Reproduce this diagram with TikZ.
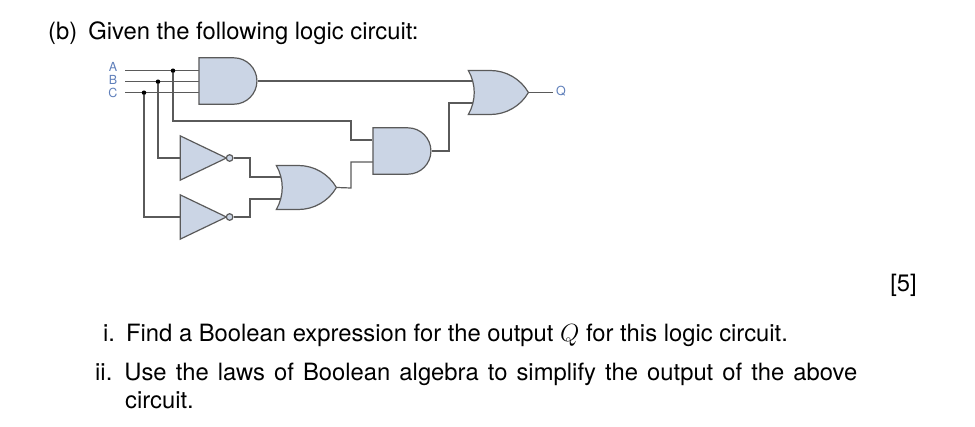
\documentclass[tikz,border=0pt]{standalone}
\usepackage{fontspec}
\setmainfont{TeX Gyre Heros}
\usetikzlibrary{shapes.gates.logic.US, backgrounds}
\definecolor{gatefill}{HTML}{CBD5E5}
\definecolor{gateline}{HTML}{5A5A5A}
\definecolor{pinblue}{HTML}{5F7FBA}
\tikzset{
    wire/.style={draw=gateline, line width=1.2pt},
    dot/.style={circle, fill=black, inner sep=0pt, minimum size=4.5pt},
    gate/.style={draw=gateline, fill=gatefill, line width=1.2pt, inner sep=0pt, logic gate inputs=nn, logic gate input sep=8pt},
    andgate/.style={gate, and gate US, minimum width=58pt, minimum height=44pt},
    orgate/.style={gate, or gate US, minimum width=54pt, minimum height=44pt},
    notgate/.style={gate, not gate US, minimum width=38pt, minimum height=38pt, logic gate inverted radius=3.3pt},
    pinlabel/.style={text=pinblue, font=\fontsize{12.5}{12.5}\selectfont, inner sep=0pt},
    body/.style={font=\fontsize{23.8}{28}\selectfont, inner sep=0pt, anchor=base west}
}
\begin{document}
\begin{tikzpicture}[x=1pt, y=-1pt]
    \useasboundingbox (0,0) rectangle (975,426);
    % Text
    \node[body] (head) at (48,39) {(b)\hspace{11pt}Given the following logic circuit:};
    \node[body, anchor=base east] (mark) at (917,291) {[5]};
    \node[body] (parti) at (103,341.5) {i.\hspace{11pt}Find a Boolean expression for the output $Q$ for this logic circuit.};
    \node[body] (partii) at (95,380) {ii.\hspace{12pt}\makebox[733pt][s]{Use the laws of Boolean algebra to simplify the output of the above}};
    \node[body] (partiib) at (125,408) {circuit.};
    % Pins
    \node[pinlabel] (pina) at (113,67) {A};
    \node[pinlabel] (pinb) at (113,80) {B};
    \node[pinlabel] (pinc) at (113,92.5) {C};
    \node[pinlabel] (pinq) at (561,91) {Q};
    % Gates
    \node[andgate] (and1) at (226,81) {};
    \node[andgate] (and2) at (400,151) {};
    \node[orgate] (or1) at (494,92.5) {};
    \node[orgate] (or2) at (302,187.5) {};
    \node[notgate] (not1) at (196,158) {};
    \node[notgate] (not2) at (196,217) {};
    % Branch points
    \coordinate (starta) at (125,70.7);
    \coordinate (startb) at (125,81.7);
    \coordinate (startc) at (125,92.7);
    \node[dot] (dota) at (173,70.7) {};
    \node[dot] (dotb) at (158,81.7) {};
    \node[dot] (dotc) at (144,92.7) {};
    % Wires, under the gates
    \begin{scope}[on background layer]
        \foreach \n in {a,b,c} {
            \draw[wire] (start\n) -- (start\n -| and1);
        }
        \draw[wire] (dota) |- (351,121) |- (and2.west |- 0,140);
        \draw[wire] (dotb) |- (not1);
        \draw[wire] (dotc) |- (not2);
        \draw[wire] (not1.output) -- (250,158) |- (or2 |- 0,177);
        \draw[wire] (not2.output) -- (250,217) |- (or2 |- 0,199);
        \draw[wire] (or2.output) -- (351,188) |- (and2 |- 0,162);
        \draw[wire] (and1.output) -- (or1 |- 0,81);
        \draw[wire] (and2.output) -- (449,151) |- (or1 |- 0,103);
        \draw[wire] (or1.output) -- (553,92.5);
    \end{scope}
\end{tikzpicture}
\end{document}
